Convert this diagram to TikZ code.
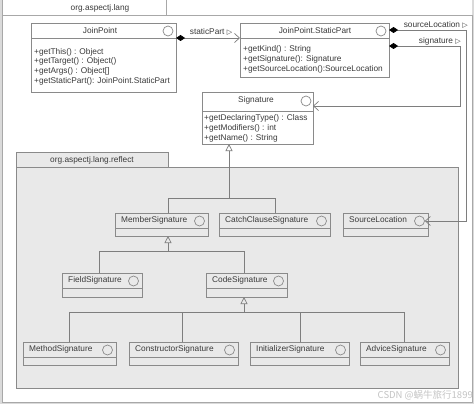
\documentclass[tikz,border=0pt]{standalone}
\usepackage{fontspec}
\setmainfont{Liberation Sans}
\newfontfamily\symfont{DejaVu Sans}
\newfontfamily\cjkfont{Noto Sans CJK SC}
\usetikzlibrary{arrows.meta,calc,fit}
\definecolor{boxc}{HTML}{8A8A8A}
\definecolor{connc}{HTML}{7E7E7E}
\definecolor{textc}{HTML}{3A3A3A}
\definecolor{pkgfill}{HTML}{E9E9E9}
\definecolor{framec}{HTML}{A8A8A8}
\definecolor{edgec}{HTML}{DADADA}
\definecolor{wmc}{HTML}{C4C4C4}
\newcommand\tri{{\symfont\fontsize{7}{7}\selectfont ▷}}
\newcommand\smallcls[6]{%
  \node[umlbox, fill=pkgfill, fit={(#2,#3) (#4,#5)}] (#1) {};
  \draw[boxc, line width=0.8pt] ($(#1.north west)+(0,15.5)$) -- ($(#1.north east)+(0,15.5)$);
  \node[circ] (#1o) at ($(#1.north east)+(-8.5,8)$) {};
  \node[mem] (#1t) at ($(#1.north west)+(6,7)$) {#6};
}
\begin{document}
\begin{tikzpicture}[x=1pt,y=-1pt,
  every node/.style={text=textc},
  txt/.style={inner sep=0pt, font=\fontsize{8.3}{9}\selectfont},
  mem/.style={txt, anchor=west},
  umlbox/.style={draw=boxc, line width=0.8pt, inner sep=0pt, outer sep=0pt},
  circ/.style={draw=boxc, line width=0.7pt, circle, minimum size=10pt, inner sep=0pt},
  conn/.style={draw=connc, line width=0.7pt},
  comp/.style={conn, {Diamond[length=9pt,width=6pt,color=black]}-{Straight Barb[length=5pt,width=9pt]}},
  inh/.style={conn, -{Triangle[open,length=7pt,width=7pt,fill=pkgfill]}},
]
\useasboundingbox (0,0) rectangle (474,404);
\fill[edgec] (0,0) rectangle (474,404);
\fill[white] (2,0) rectangle (472,402);
\draw[framec, line width=0.8pt] (2,15) rectangle (472,402);
\draw[framec, line width=0.8pt] (2,-1) -- (2,15) (166,-1) -- (166,15);
\node[txt] (pk1) at (100,8) {org.aspectj.lang};

% inner package
\draw[boxc, fill=pkgfill, line width=0.8pt] (16,152) rectangle (168,167);
\draw[boxc, fill=pkgfill, line width=0.8pt] (16,167) rectangle (458,388);
\node[txt] (pk2) at (92,160) {org.aspectj.lang.reflect};

% JoinPoint
\node[umlbox, fill=white, fit={(31,23) (176,92)}] (jp) {};
\draw[boxc, line width=0.8pt] ($(jp.north west)+(0,15)$) -- ($(jp.north east)+(0,15)$);
\node[circ] (jpo) at ($(jp.north east)+(-8,8)$) {};
\node[txt] (jpt) at (100,31) {JoinPoint};
\node[mem] (jpm1) at (34,52) {+getThis() : Object};
\node[mem] (jpm2) at (34,61.7) {+getTarget() : Object()};
\node[mem] (jpm3) at (34,71.4) {+getArgs() : Object[]};
\node[mem] (jpm4) at (34,81.1) {+getStaticPart(): JoinPoint.StaticPart};

% JoinPoint.StaticPart
\node[umlbox, fill=white, fit={(240,23) (389,77)}] (sp) {};
\draw[boxc, line width=0.8pt] ($(sp.north west)+(0,15)$) -- ($(sp.north east)+(0,15)$);
\node[circ] (spo) at ($(sp.north east)+(-8,8)$) {};
\node[txt] (spt) at (315,31) {JoinPoint.StaticPart};
\node[mem] (spm1) at (243,49.5) {+getKind() : String};
\node[mem] (spm2) at (243,59.2) {+getSignature(): Signature};
\node[mem] (spm3) at (243,68.9) {+getSourceLocation():SourceLocation};

% Signature
\node[umlbox, fill=white, fit={(202,92) (313,144)}] (sig) {};
\draw[boxc, line width=0.8pt] ($(sig.north west)+(0,19)$) -- ($(sig.north east)+(0,19)$);
\node[circ] (sigo) at ($(sig.north east)+(-7,9)$) {};
\node[txt] (sigt) at (256,100) {Signature};
\node[mem] (sigm1) at (204,118) {+getDeclaringType() : Class};
\node[mem] (sigm2) at (204,128) {+getModifiers() : int};
\node[mem] (sigm3) at (204,138) {+getName() : String};

% reflect classes
\smallcls{ms}{115}{213}{208}{236}{MemberSignature}
\smallcls{cc}{219}{213}{330}{236}{CatchClauseSignature}
\smallcls{sl}{343}{213}{428}{236}{SourceLocation}
\smallcls{fs}{62}{273}{142}{297}{FieldSignature}
\smallcls{cs}{206}{273}{287}{297}{CodeSignature}
\smallcls{mt}{23}{342}{116}{365}{MethodSignature}
\smallcls{ct}{129}{342}{238}{365}{ConstructorSignature}
\smallcls{is}{250}{342}{349}{365}{InitializerSignature}
\smallcls{as}{360}{342}{449}{365}{AdviceSignature}

% staticPart
\coordinate (c1) at ($(jp.north east)+(0,15)$);
\draw[comp] (c1) -- (c1 -| sp.west);
\node[txt] (l1) at (211,32) {staticPart \tri};

% sourceLocation
\coordinate (c2) at ($(sp.north east)+(0,7)$);
\coordinate (b2) at (466,30);
\draw[comp] (c2) -- (b2) |- (slo.east);
\node[txt, anchor=east] (l2) at (468,25) {sourceLocation \tri};

% signature
\coordinate (c3) at ($(sp.north east)+(0,23)$);
\coordinate (b3) at (460,46);
\coordinate (e3) at ($(sig.north east)+(0,14)$);
\draw[comp] (c3) -- (b3) |- (e3);
\node[txt, anchor=east] (l3) at (461,41) {signature \tri};

% generalisation: Signature
\coordinate (i1) at ($(sig.south west)+(27,0)$);
\coordinate (m1) at ($(ms.north west)+(53,0)$);
\coordinate (m2) at ($(cc.north west)+(56,0)$);
\coordinate (j1) at ($(m1)+(0,-15)$);
\draw[conn] (m1) -- (j1) -| (m2);
\draw[inh, -{Triangle[open,length=7pt,width=7pt,fill=white]}] (j1 -| i1) -- (i1);

% generalisation: MemberSignature
\coordinate (i2) at ($(ms.south west)+(53,0)$);
\coordinate (f1) at ($(fs.north west)+(37,0)$);
\coordinate (f2) at ($(cs.north west)+(38,0)$);
\coordinate (j2) at ($(f1)+(0,-22)$);
\draw[conn] (f1) -- (j2) -| (f2);
\draw[inh] (j2 -| i2) -- (i2);

% generalisation: CodeSignature
\coordinate (i3) at ($(cs.south west)+(38,0)$);
\coordinate (k1) at ($(mt.north west)+(46,0)$);
\coordinate (k2) at ($(ct.north west)+(53,0)$);
\coordinate (k3) at ($(is.north west)+(50,0)$);
\coordinate (k4) at ($(as.north west)+(44,0)$);
\coordinate (j3) at ($(k1)+(0,-30)$);
\draw[conn] (k1) -- (j3) -| (k4);
\draw[conn] (k2) -- (k2 |- j3);
\draw[conn] (k3) -- (k3 |- j3);
\draw[inh] (j3 -| i3) -- (i3);

% watermark
\node[anchor=east, inner sep=0pt, text=wmc, font=\cjkfont\fontsize{9.5}{10}\selectfont] (wm) at (473,395) {CSDN @蜗牛旅行1899};
\end{tikzpicture}
\end{document}
